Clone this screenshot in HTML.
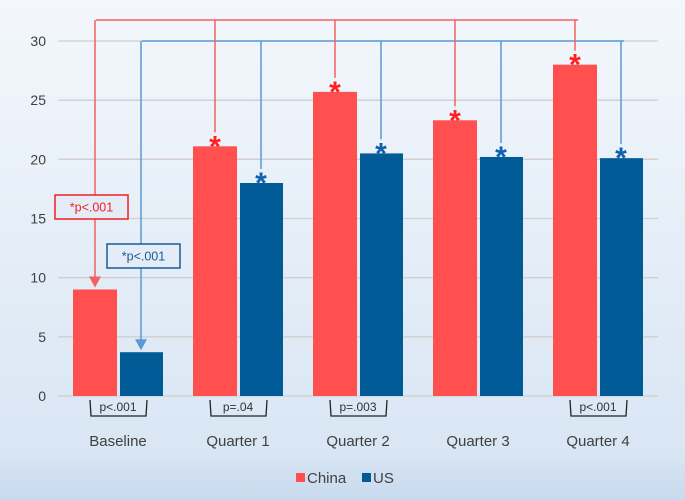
<!DOCTYPE html>
<html><head><meta charset="utf-8"><style>
body{margin:0;width:685px;height:500px;overflow:hidden;font-family:"Liberation Sans",sans-serif}
svg{display:block}
</style></head><body>
<svg id="c" width="685" height="500">
<defs><linearGradient id="bg" x1="0" y1="0" x2="0" y2="1"><stop offset="0" stop-color="#f3f7fc"/><stop offset="0.9" stop-color="#d9e6f4"/><stop offset="1" stop-color="#c8daee"/></linearGradient></defs>
<rect width="685" height="500" fill="url(#bg)"/>
<g id="g"></g>
</svg>
<script>
const categories=["Baseline","Quarter 1","Quarter 2","Quarter 3","Quarter 4"];
const china=[9.0,21.1,25.7,23.3,28.0];
const us=[3.7,18.0,20.5,20.2,20.1];
const yTicks=[0,5,10,15,20,25,30];
const pLabels=["p<.001","p=.04","p=.003","","p<.001"];
const RED="#ff4f4f",BLUE="#005b96",LRED="#f46060",LBLUE="#5a9ad6";
const g=document.getElementById('g');const NS="http://www.w3.org/2000/svg";
function y(v){return 396-v*(396-41)/30;}
function cx(i){return 118+i*120;}
function mk(t,a,parent){const e=document.createElementNS(NS,t);for(const k in a)e.setAttribute(k,a[k]);(parent||g).appendChild(e);return e;}
yTicks.forEach(v=>{
 const l=mk('line',{x1:58,x2:658,y1:y(v),y2:y(v),stroke:"#d0cfcc","stroke-width":1.3});
 
 
 const t=mk('text',{x:46,y:y(v)+5,"text-anchor":"end","font-size":14,fill:"#404040"});t.textContent=v;
 
 
});
const redTop=20,blueTop=41;
const rl=mk('line',{x1:cx(0)-22,x2:cx(4)-20,y1:redTop,y2:redTop,stroke:LRED,"stroke-width":1.5});


const bl=mk('line',{x1:cx(0)+24,x2:cx(4)+26,y1:blueTop,y2:blueTop,stroke:LBLUE,"stroke-width":1.5});


categories.forEach((c,i)=>{
 const xc=cx(i)-23,xu=cx(i)+23;
 const r=mk('rect',{x:xc-22,y:y(china[i]),width:44,height:396-y(china[i]),fill:RED});
 
 
 const b=mk('rect',{x:xu-21,y:y(us[i]),width:43,height:396-y(us[i]),fill:BLUE});
 
 
 if(i===0){
  const a=mk('line',{x1:xc,x2:xc,y1:redTop,y2:y(china[i])-12,stroke:LRED,"stroke-width":1.5});
  
  mk('polygon',{points:`${xc-6},${y(china[i])-13} ${xc+6},${y(china[i])-13} ${xc},${y(china[i])-2}`,fill:LRED});
  const a2=mk('line',{x1:xu,x2:xu,y1:blueTop,y2:y(us[i])-12,stroke:LBLUE,"stroke-width":1.5});
  
  mk('polygon',{points:`${xu-6},${y(us[i])-13} ${xu+6},${y(us[i])-13} ${xu},${y(us[i])-2}`,fill:LBLUE});
 } else {
  const a=mk('line',{x1:xc,x2:xc,y1:redTop,y2:y(china[i])-14,stroke:LRED,"stroke-width":1.5});
  
  const s=mk('text',{x:xc,y:y(china[i])+10,"text-anchor":"middle","font-size":30,"font-weight":"bold",fill:"#ff2020"});s.textContent="*";
  
  const a2=mk('line',{x1:xu,x2:xu,y1:blueTop,y2:y(us[i])-14,stroke:LBLUE,"stroke-width":1.5});
  
  const s2=mk('text',{x:xu,y:y(us[i])+10,"text-anchor":"middle","font-size":30,"font-weight":"bold",fill:"#1060b0"});s2.textContent="*";
  
 }
 if(pLabels[i]){
  const bx=cx(i);
  mk('path',{d:`M${bx-28},400 L${bx-27},416 L${bx+28},416 L${bx+29},400`,fill:"none",stroke:"#222","stroke-width":1.3});
  const p=mk('text',{x:bx,y:411,"text-anchor":"middle","font-size":12,fill:"#333"});p.textContent=pLabels[i];
  
 }
 const t=mk('text',{x:cx(i),y:446,"text-anchor":"middle","font-size":15,fill:"#404040"});t.textContent=c;
 
 
});
function box(x,yy,w,h,col,txt,name){
 const r=mk('rect',{x:x,y:yy,width:w,height:h,fill:"#e4edf7",stroke:col,"stroke-width":1.5});
 
 const t=mk('text',{x:x+w/2,y:yy+h/2+4.5,"text-anchor":"middle","font-size":12.5,fill:col});t.textContent=txt;
 
}
box(55,195,73,24,"#f02020","*p<.001","china-annotation");
box(107,244,73,24,"#1a5a96","*p<.001","us-annotation");
const lg=mk('g',{});

mk('rect',{x:296,y:473,width:9,height:9,fill:RED},lg);
const l1=mk('text',{x:307,y:483,"font-size":15,fill:"#404040"},lg);l1.textContent="China";

mk('rect',{x:362,y:473,width:9,height:9,fill:BLUE},lg);
const l2=mk('text',{x:373,y:483,"font-size":15,fill:"#404040"},lg);l2.textContent="US";

</script>
</body></html>
